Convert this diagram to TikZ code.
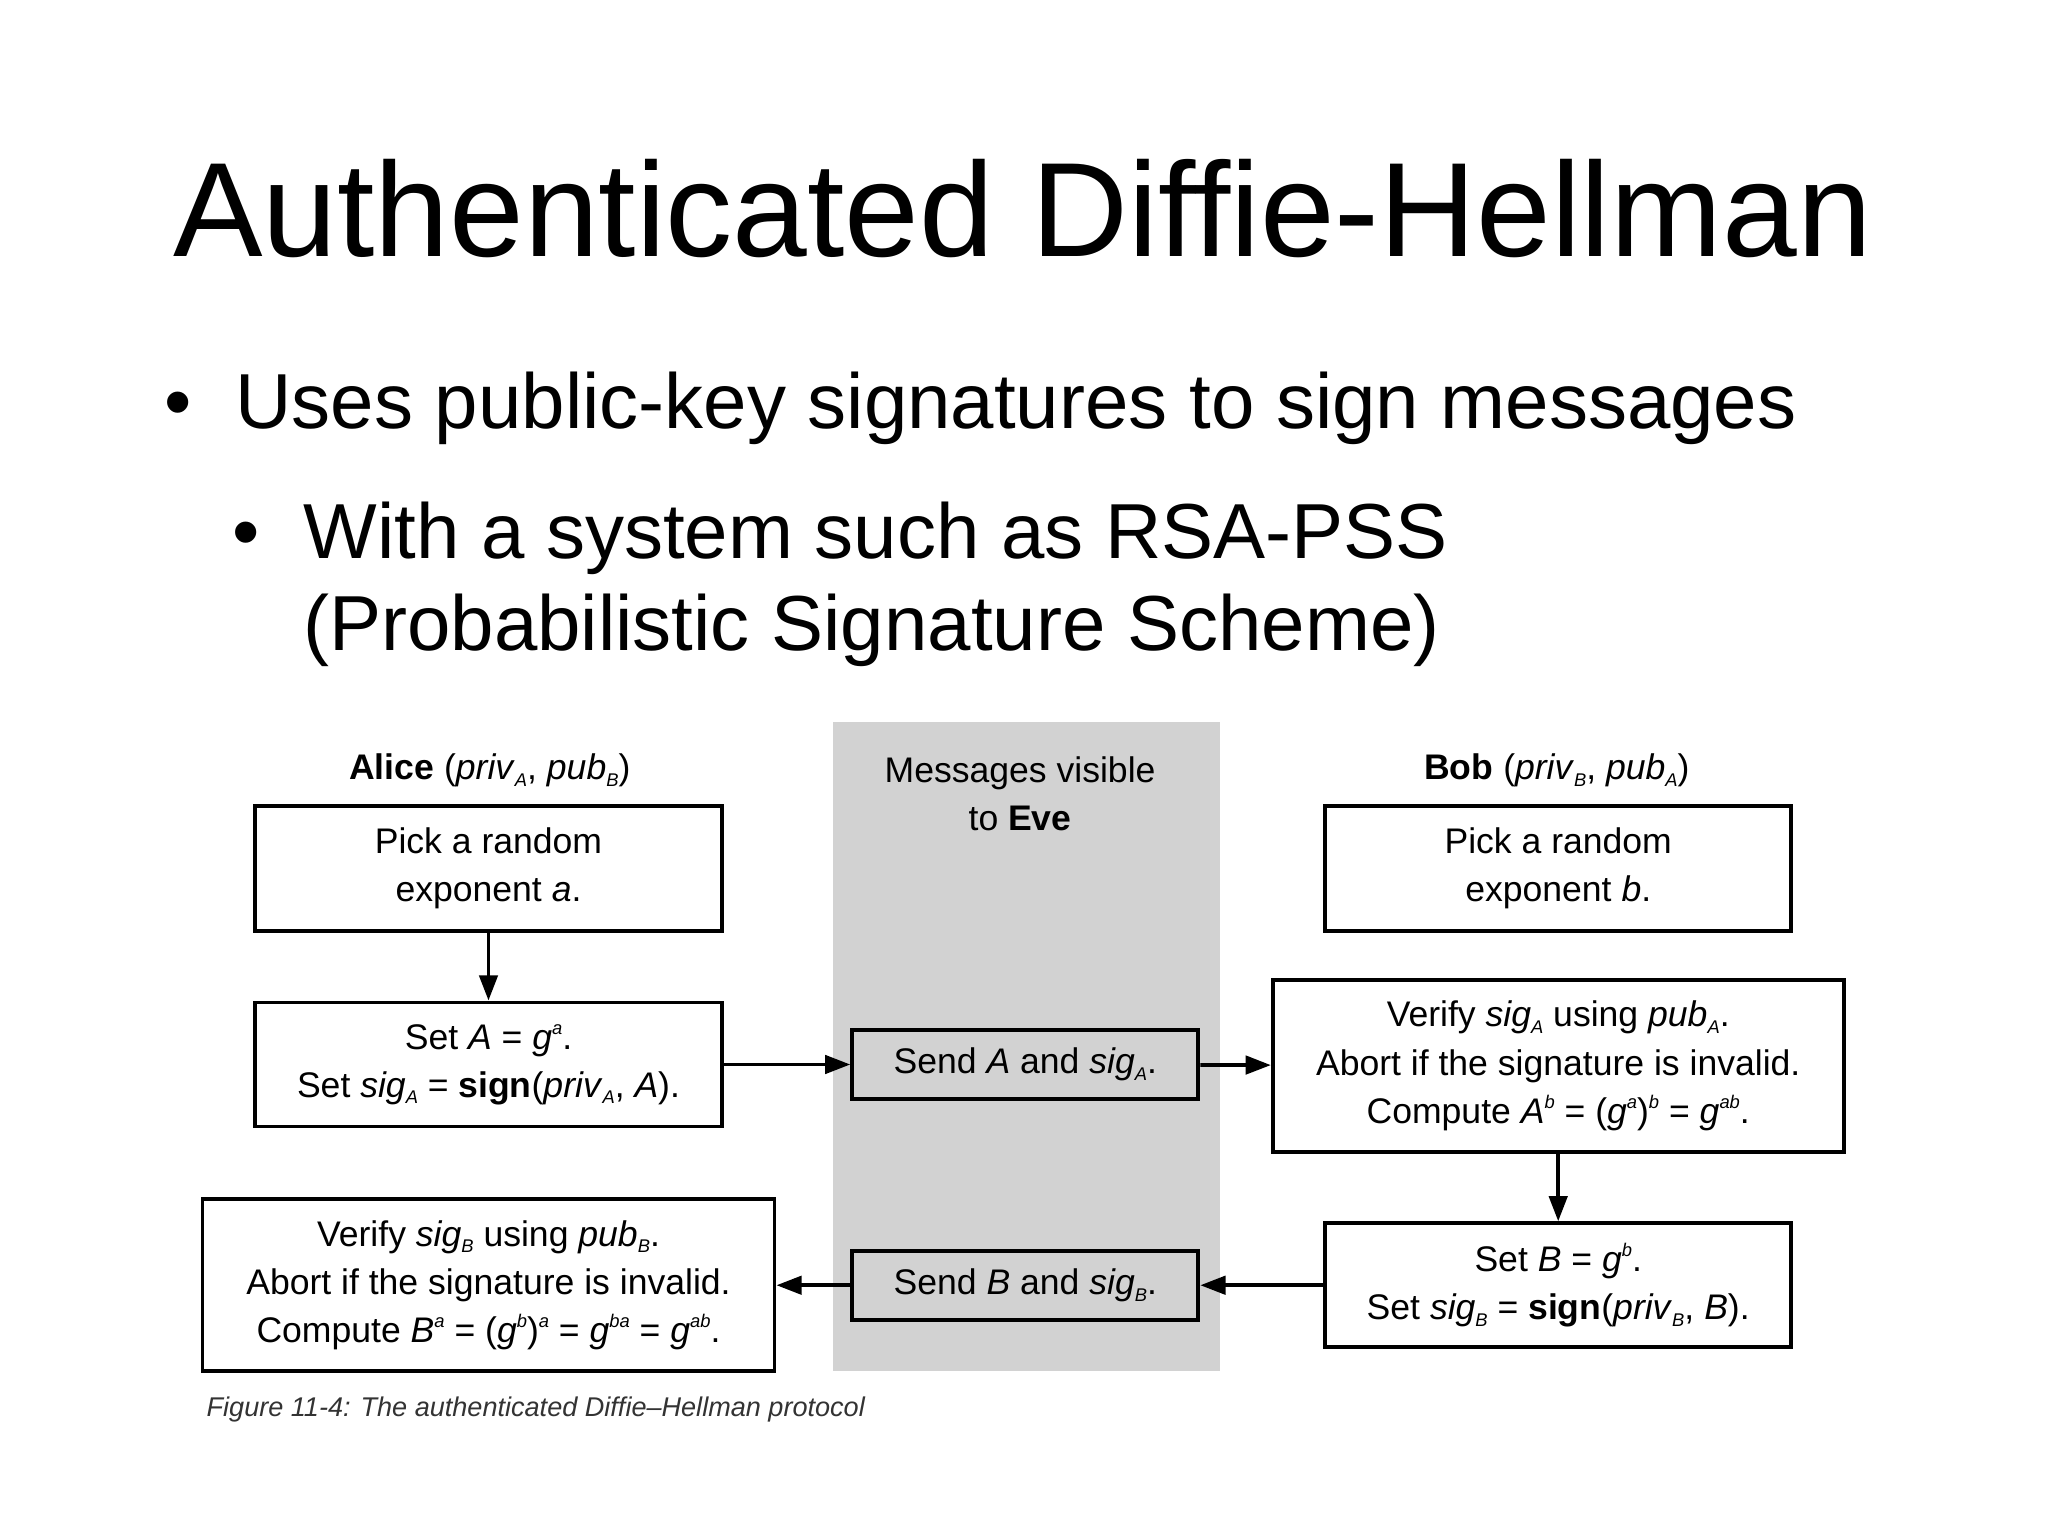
\documentclass[tikz,border=0pt]{standalone}
\usepackage{fontspec}
\setmainfont{Liberation Sans}
\usetikzlibrary{arrows.meta}
\newcommand{\sbx}[1]{\raisebox{-0.35ex}{\footnotesize #1}}
\newcommand{\spx}[1]{\raisebox{0.8ex}{\footnotesize #1}}
\begin{document}
\begin{tikzpicture}[x=0.02cm,y=-0.02cm,
  bx/.style={draw,line width=1.7pt,inner sep=0pt,align=center,font=\fontsize{15.5}{21}\selectfont},
  lab/.style={align=center,font=\fontsize{15.5}{21}\selectfont},
  arr/.style={-{Triangle[length=11pt,width=8pt]},line width=1.6pt}]
\useasboundingbox (0,0) rectangle (1568,1176);
\fill[white] (0,0) rectangle (1568,1176);
\node[font=\fontsize{58.5}{64}\selectfont] (title) at (783,160) {Authenticated Diffie-Hellman};
\node[anchor=west,font=\fontsize{34}{40}\selectfont] (b1) at (120,313) {\textbullet\ \ Uses public-key signatures to sign messages};
\node[anchor=north west,align=left,font=\fontsize{34}{40}\selectfont] (b2) at (172,378) {\textbullet\ \ With a system such as RSA-PSS\\\phantom{\textbullet\ \ }(Probabilistic Signature Scheme)};
\fill[gray!35] (638,553) rectangle (934,1050);
\node[lab] (eve) at (781,608) {Messages visible\\to \textbf{Eve}};
\node[lab] (alice) at (375,590) {\textbf{Alice} (\textit{priv}\sbx{\textit{A}}, \textit{pub}\sbx{\textit{B}})};
\node[lab] (bob) at (1192,590) {\textbf{Bob} (\textit{priv}\sbx{\textit{B}}, \textit{pub}\sbx{\textit{A}})};
\node[bx,minimum width=358*0.02cm,minimum height=96*0.02cm] (a1) at (374,665) {Pick a random\\exponent \textit{a}.};
\node[bx,minimum width=358*0.02cm,minimum height=95*0.02cm] (a2) at (374,815) {Set \textit{A} = \textit{g}\spx{\textit{a}}.\\Set \textit{sig}\sbx{\textit{A}} = \textbf{sign}(\textit{priv}\sbx{\textit{A}}, \textit{A}).};
\node[bx,minimum width=438*0.02cm,minimum height=132*0.02cm] (a3) at (374,984) {Verify \textit{sig}\sbx{\textit{B}} using \textit{pub}\sbx{\textit{B}}.\\Abort if the signature is invalid.\\Compute \textit{B}\spx{\textit{a}} = (\textit{g}\spx{\textit{b}})\spx{\textit{a}} = \textit{g}\spx{\textit{ba}} = \textit{g}\spx{\textit{ab}}.};
\node[bx,fill=gray!35,minimum width=265*0.02cm,minimum height=53*0.02cm] (m1) at (785,815) {Send \textit{A} and \textit{sig}\sbx{\textit{A}}.};
\node[bx,fill=gray!35,minimum width=265*0.02cm,minimum height=53*0.02cm] (m2) at (785,984) {Send \textit{B} and \textit{sig}\sbx{\textit{B}}.};
\node[bx,minimum width=357*0.02cm,minimum height=96*0.02cm] (b1x) at (1193,665) {Pick a random\\exponent \textit{b}.};
\node[bx,minimum width=437*0.02cm,minimum height=132*0.02cm] (b2x) at (1193,816) {Verify \textit{sig}\sbx{\textit{A}} using \textit{pub}\sbx{\textit{A}}.\\Abort if the signature is invalid.\\Compute \textit{A}\spx{\textit{b}} = (\textit{g}\spx{\textit{a}})\spx{\textit{b}} = \textit{g}\spx{\textit{ab}}.};
\node[bx,minimum width=357*0.02cm,minimum height=95*0.02cm] (b3x) at (1193,984) {Set \textit{B} = \textit{g}\spx{\textit{b}}.\\Set \textit{sig}\sbx{\textit{B}} = \textbf{sign}(\textit{priv}\sbx{\textit{B}}, \textit{B}).};
\draw[arr] (a1) -- (a2);
\draw[arr] (a2) -- (m1);
\draw[arr] (m1) -- (b2x);
\draw[arr] (b2x) -- (b3x);
\draw[arr] (b3x) -- (m2);
\draw[arr] (m2) -- (a3);
\node[anchor=west,font=\fontsize{11.8}{13}\itshape\selectfont,text=black!80] (cap) at (152,1079) {Figure 11-4: The authenticated Diffie–Hellman protocol};
\end{tikzpicture}
\end{document}
